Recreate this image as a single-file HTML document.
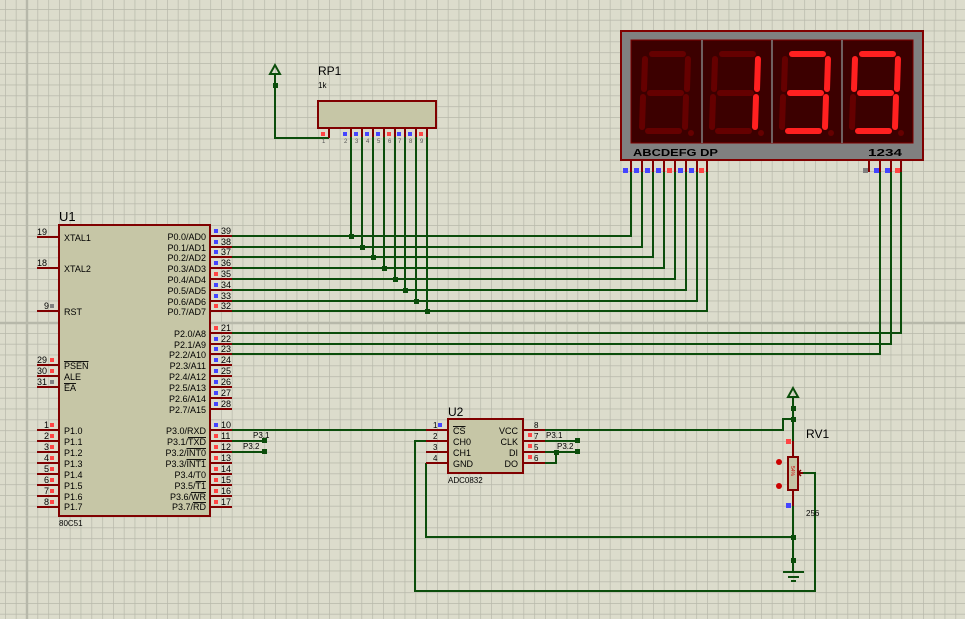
<!DOCTYPE html>
<html><head><meta charset="utf-8"><style>
html,body{margin:0;padding:0;width:965px;height:619px;overflow:hidden;background:#dcdccc}
svg{display:block;font-family:"Liberation Sans",sans-serif}
.pl{font-size:9px;fill:#000}
.pn{font-size:9px;fill:#000}
.ol{text-decoration:overline}
</style></head><body>
<svg width="965" height="619" xmlns="http://www.w3.org/2000/svg">
<defs>
<pattern id="g" x="5" y="9" width="10.8" height="10.8" patternUnits="userSpaceOnUse">
<path d="M0 0H10.8M0 0V10.8" stroke="#b7b8aa" stroke-width="1.4" fill="none"/>
</pattern>
</defs>
<rect width="965" height="619" fill="#dcdccc"/>
<rect width="965" height="619" fill="url(#g)"/>
<g stroke="#b7b8aa" stroke-width="2.4">
<line x1="27" y1="0" x2="27" y2="619"/>
<line x1="0" y1="323" x2="965" y2="323"/>
</g>

<!-- ===== WIRES ===== -->
<g stroke="#0b4d0b" stroke-width="2" fill="none">
<polyline points="232,236 631,236 631,172"/>
<polyline points="232,247 642,247 642,172"/>
<polyline points="232,257 653,257 653,172"/>
<polyline points="232,268 664,268 664,172"/>
<polyline points="232,279 675,279 675,172"/>
<polyline points="232,290 686,290 686,172"/>
<polyline points="232,301 697,301 697,172"/>
<polyline points="232,311 707,311 707,172"/>
<line x1="351" y1="136" x2="351" y2="236"/>
<line x1="362" y1="136" x2="362" y2="247"/>
<line x1="373" y1="136" x2="373" y2="257"/>
<line x1="384" y1="136" x2="384" y2="268"/>
<line x1="395" y1="136" x2="395" y2="279"/>
<line x1="405" y1="136" x2="405" y2="290"/>
<line x1="416" y1="136" x2="416" y2="301"/>
<line x1="427" y1="136" x2="427" y2="311"/>
<polyline points="329,138 275,138 275,74"/>
<polyline points="232,333 901,333 901,172"/>
<polyline points="232,344 891,344 891,172"/>
<polyline points="232,354 880,354 880,172"/>
<line x1="232" y1="430" x2="426" y2="430"/>
<line x1="232" y1="441" x2="265" y2="441"/>
<line x1="232" y1="452" x2="265" y2="452"/>
<polyline points="545,430 783,430 783,419 793,419"/>
<line x1="545" y1="441" x2="577" y2="441"/>
<line x1="545" y1="452" x2="577" y2="452"/>
<polyline points="545,463 556,463 556,452"/>
<polyline points="426,441 415,441 415,591 815,591 815,473 803,473"/>
<polyline points="426,463 426,537 793,537"/>
<line x1="793" y1="398" x2="793" y2="441"/>
<line x1="793" y1="506" x2="793" y2="572"/>
</g>
<g fill="#0b4d0b">
<rect x="349" y="234" width="5" height="5"/><rect x="360" y="245" width="5" height="5"/>
<rect x="371" y="255" width="5" height="5"/><rect x="382" y="266" width="5" height="5"/>
<rect x="393" y="277" width="5" height="5"/><rect x="403" y="288" width="5" height="5"/>
<rect x="414" y="299" width="5" height="5"/><rect x="425" y="309" width="5" height="5"/>
<rect x="273" y="83" width="5" height="5"/>
<rect x="262" y="438" width="5" height="5"/><rect x="262" y="449" width="5" height="5"/>
<rect x="575" y="438" width="5" height="5"/><rect x="575" y="449" width="5" height="5"/>
<rect x="554" y="450" width="5" height="5"/>
<rect x="791" y="406" width="5" height="5"/><rect x="791" y="417" width="5" height="5"/>
<rect x="791" y="535" width="5" height="5"/><rect x="791" y="558" width="5" height="5"/>
</g>
<g stroke="#0b4d0b" stroke-width="2" fill="none">
<polygon points="275,65 270,74 280,74"/>
<polygon points="793,388 788,397 798,397"/>
<line x1="783" y1="572" x2="804" y2="572"/>
<line x1="788" y1="577" x2="799" y2="577"/>
<line x1="791" y1="581" x2="796" y2="581"/>
</g>
<g font-size="8" fill="#000">
<text x="253" y="438">P3.1</text><text x="243" y="449">P3.2</text>
<text x="546" y="438">P3.1</text><text x="557" y="449">P3.2</text>
</g>

<!-- ===== U1 ===== -->
<g stroke="#800000" stroke-width="2">
<line x1="37" y1="237" x2="59" y2="237"/><line x1="37" y1="268" x2="59" y2="268"/>
<line x1="37" y1="311" x2="59" y2="311"/><line x1="37" y1="365" x2="59" y2="365"/>
<line x1="37" y1="376" x2="59" y2="376"/><line x1="37" y1="387" x2="59" y2="387"/>
<line x1="37" y1="430" x2="59" y2="430"/><line x1="37" y1="441" x2="59" y2="441"/>
<line x1="37" y1="452" x2="59" y2="452"/><line x1="37" y1="463" x2="59" y2="463"/>
<line x1="37" y1="474" x2="59" y2="474"/><line x1="37" y1="485" x2="59" y2="485"/>
<line x1="37" y1="496" x2="59" y2="496"/><line x1="37" y1="507" x2="59" y2="507"/>
<line x1="210" y1="236" x2="232" y2="236"/><line x1="210" y1="247" x2="232" y2="247"/>
<line x1="210" y1="257" x2="232" y2="257"/><line x1="210" y1="268" x2="232" y2="268"/>
<line x1="210" y1="279" x2="232" y2="279"/><line x1="210" y1="290" x2="232" y2="290"/>
<line x1="210" y1="301" x2="232" y2="301"/><line x1="210" y1="311" x2="232" y2="311"/>
<line x1="210" y1="333" x2="232" y2="333"/><line x1="210" y1="344" x2="232" y2="344"/>
<line x1="210" y1="354" x2="232" y2="354"/><line x1="210" y1="365" x2="232" y2="365"/>
<line x1="210" y1="376" x2="232" y2="376"/><line x1="210" y1="387" x2="232" y2="387"/>
<line x1="210" y1="398" x2="232" y2="398"/><line x1="210" y1="409" x2="232" y2="409"/>
<line x1="210" y1="430" x2="232" y2="430"/><line x1="210" y1="441" x2="232" y2="441"/>
<line x1="210" y1="452" x2="232" y2="452"/><line x1="210" y1="463" x2="232" y2="463"/>
<line x1="210" y1="474" x2="232" y2="474"/><line x1="210" y1="485" x2="232" y2="485"/>
<line x1="210" y1="496" x2="232" y2="496"/><line x1="210" y1="507" x2="232" y2="507"/>
</g>
<rect x="59" y="225" width="151" height="291" fill="#c6c6a6" stroke="#800000" stroke-width="2"/>
<text x="59" y="221" font-size="13">U1</text>
<text x="59" y="526" font-size="8">80C51</text>
<g class="pl">
<text x="64" y="241">XTAL1</text><text x="64" y="272">XTAL2</text><text x="64" y="315">RST</text>
<text x="64" y="369"><tspan class="ol">PSEN</tspan></text><text x="64" y="380">ALE</text><text x="64" y="391"><tspan class="ol">EA</tspan></text>
<text x="64" y="434">P1.0</text><text x="64" y="445">P1.1</text><text x="64" y="456">P1.2</text><text x="64" y="467">P1.3</text>
<text x="64" y="478">P1.4</text><text x="64" y="489">P1.5</text><text x="64" y="500">P1.6</text><text x="64" y="510">P1.7</text>
</g>
<g class="pl" text-anchor="end">
<text x="206" y="240">P0.0/AD0</text><text x="206" y="251">P0.1/AD1</text><text x="206" y="261">P0.2/AD2</text><text x="206" y="272">P0.3/AD3</text>
<text x="206" y="283">P0.4/AD4</text><text x="206" y="294">P0.5/AD5</text><text x="206" y="305">P0.6/AD6</text><text x="206" y="315">P0.7/AD7</text>
<text x="206" y="337">P2.0/A8</text><text x="206" y="348">P2.1/A9</text><text x="206" y="358">P2.2/A10</text><text x="206" y="369">P2.3/A11</text>
<text x="206" y="380">P2.4/A12</text><text x="206" y="391">P2.5/A13</text><text x="206" y="402">P2.6/A14</text><text x="206" y="413">P2.7/A15</text>
<text x="206" y="434">P3.0/RXD</text><text x="206" y="445">P3.1/<tspan class="ol">TXD</tspan></text><text x="206" y="456">P3.2/<tspan class="ol">INT0</tspan></text><text x="206" y="467">P3.3/<tspan class="ol">INT1</tspan></text>
<text x="206" y="478">P3.4/T0</text><text x="206" y="489">P3.5/<tspan class="ol">T1</tspan></text><text x="206" y="500">P3.6/<tspan class="ol">WR</tspan></text><text x="206" y="510">P3.7/<tspan class="ol">RD</tspan></text>
</g>
<g class="pn">
<text x="37" y="235">19</text><text x="37" y="266">18</text><text x="44" y="309">9</text>
<text x="37" y="363">29</text><text x="37" y="374">30</text><text x="37" y="385">31</text>
<text x="44" y="428">1</text><text x="44" y="439">2</text><text x="44" y="450">3</text><text x="44" y="461">4</text>
<text x="44" y="472">5</text><text x="44" y="483">6</text><text x="44" y="494">7</text><text x="44" y="505">8</text>
<text x="221" y="234">39</text><text x="221" y="245">38</text><text x="221" y="255">37</text><text x="221" y="266">36</text>
<text x="221" y="277">35</text><text x="221" y="288">34</text><text x="221" y="299">33</text><text x="221" y="309">32</text>
<text x="221" y="331">21</text><text x="221" y="342">22</text><text x="221" y="352">23</text><text x="221" y="363">24</text>
<text x="221" y="374">25</text><text x="221" y="385">26</text><text x="221" y="396">27</text><text x="221" y="407">28</text>
<text x="221" y="428">10</text><text x="221" y="439">11</text><text x="221" y="450">12</text><text x="221" y="461">13</text>
<text x="221" y="472">14</text><text x="221" y="483">15</text><text x="221" y="494">16</text><text x="221" y="505">17</text>
</g>
<g>
<rect x="50" y="304" width="4" height="4" fill="#808080"/><rect x="50" y="358" width="4" height="4" fill="#f44"/>
<rect x="50" y="369" width="4" height="4" fill="#f44"/><rect x="50" y="380" width="4" height="4" fill="#808080"/>
<g fill="#f44"><rect x="50" y="423" width="4" height="4"/><rect x="50" y="434" width="4" height="4"/><rect x="50" y="445" width="4" height="4"/><rect x="50" y="456" width="4" height="4"/><rect x="50" y="467" width="4" height="4"/><rect x="50" y="478" width="4" height="4"/><rect x="50" y="489" width="4" height="4"/><rect x="50" y="500" width="4" height="4"/></g>
<g fill="#44f"><rect x="214" y="229" width="4" height="4"/><rect x="214" y="240" width="4" height="4"/><rect x="214" y="250" width="4" height="4"/><rect x="214" y="261" width="4" height="4"/><rect x="214" y="283" width="4" height="4"/><rect x="214" y="294" width="4" height="4"/>
<rect x="214" y="337" width="4" height="4"/><rect x="214" y="347" width="4" height="4"/><rect x="214" y="358" width="4" height="4"/><rect x="214" y="369" width="4" height="4"/><rect x="214" y="380" width="4" height="4"/><rect x="214" y="391" width="4" height="4"/><rect x="214" y="402" width="4" height="4"/><rect x="214" y="423" width="4" height="4"/></g>
<g fill="#f44"><rect x="214" y="272" width="4" height="4"/><rect x="214" y="304" width="4" height="4"/><rect x="214" y="326" width="4" height="4"/>
<rect x="214" y="434" width="4" height="4"/><rect x="214" y="445" width="4" height="4"/><rect x="214" y="456" width="4" height="4"/><rect x="214" y="467" width="4" height="4"/><rect x="214" y="478" width="4" height="4"/><rect x="214" y="489" width="4" height="4"/><rect x="214" y="500" width="4" height="4"/></g>
</g>

<!-- ===== RP1 ===== -->
<g stroke="#800000" stroke-width="2">
<line x1="329" y1="128" x2="329" y2="138"/>
<line x1="351" y1="128" x2="351" y2="137"/><line x1="362" y1="128" x2="362" y2="137"/>
<line x1="373" y1="128" x2="373" y2="137"/><line x1="384" y1="128" x2="384" y2="137"/>
<line x1="395" y1="128" x2="395" y2="137"/><line x1="405" y1="128" x2="405" y2="137"/>
<line x1="416" y1="128" x2="416" y2="137"/><line x1="427" y1="128" x2="427" y2="137"/>
</g>
<rect x="318" y="101" width="118" height="27" fill="#c6c6a6" stroke="#800000" stroke-width="2"/>
<text x="318" y="75" font-size="12">RP1</text>
<text x="318" y="88" font-size="8">1k</text>
<rect x="321" y="132" width="4" height="4" fill="#f44"/>
<g fill="#44f"><rect x="343" y="132" width="4" height="4"/><rect x="354" y="132" width="4" height="4"/><rect x="365" y="132" width="4" height="4"/><rect x="376" y="132" width="4" height="4"/><rect x="397" y="132" width="4" height="4"/><rect x="408" y="132" width="4" height="4"/></g>
<g fill="#f44"><rect x="387" y="132" width="4" height="4"/><rect x="419" y="132" width="4" height="4"/></g>
<g font-size="6" fill="#555"><text x="322" y="143">1</text><text x="344" y="143">2</text><text x="355" y="143">3</text><text x="366" y="143">4</text><text x="377" y="143">5</text><text x="388" y="143">6</text><text x="398" y="143">7</text><text x="409" y="143">8</text><text x="420" y="143">9</text></g>

<!-- ===== DISPLAY ===== -->
<g stroke="#800000" stroke-width="2">
<line x1="631" y1="160" x2="631" y2="172"/><line x1="642" y1="160" x2="642" y2="172"/>
<line x1="653" y1="160" x2="653" y2="172"/><line x1="664" y1="160" x2="664" y2="172"/>
<line x1="675" y1="160" x2="675" y2="172"/><line x1="686" y1="160" x2="686" y2="172"/>
<line x1="697" y1="160" x2="697" y2="172"/><line x1="707" y1="160" x2="707" y2="172"/>
<line x1="869" y1="160" x2="869" y2="172"/><line x1="880" y1="160" x2="880" y2="172"/>
<line x1="891" y1="160" x2="891" y2="172"/><line x1="901" y1="160" x2="901" y2="172"/>
</g>
<rect x="621" y="31" width="302" height="129" fill="#808080" stroke="#800000" stroke-width="2"/>
<rect x="631" y="40" width="282" height="103" fill="#3c0000" stroke="#800000" stroke-width="1"/>
<g stroke="#808080" stroke-width="1.5"><line x1="702" y1="40" x2="702" y2="143"/><line x1="772" y1="40" x2="772" y2="143"/><line x1="842" y1="40" x2="842" y2="143"/></g>
<g stroke-width="6" stroke-linecap="round">
<g stroke="#650000">
<line x1="652" y1="54" x2="683" y2="54"/><line x1="645" y1="59" x2="644" y2="89"/><line x1="688" y1="59" x2="687" y2="89"/>
<line x1="650" y1="93" x2="681" y2="93"/><line x1="643" y1="97" x2="642" y2="127"/><line x1="686" y1="97" x2="685" y2="127"/>
<line x1="648" y1="131" x2="679" y2="131"/>
<line x1="722" y1="54" x2="753" y2="54"/><line x1="715" y1="59" x2="714" y2="89"/>
<line x1="720" y1="93" x2="751" y2="93"/><line x1="713" y1="97" x2="712" y2="127"/><line x1="718" y1="131" x2="749" y2="131"/>
<line x1="785" y1="59" x2="784" y2="89"/><line x1="783" y1="97" x2="782" y2="127"/>
<line x1="853" y1="97" x2="852" y2="127"/>
</g>
<g stroke="#ff2020">
<line x1="758" y1="59" x2="757" y2="89"/><line x1="756" y1="97" x2="755" y2="127"/>
<line x1="792" y1="54" x2="823" y2="54"/><line x1="828" y1="59" x2="827" y2="89"/><line x1="790" y1="93" x2="821" y2="93"/><line x1="826" y1="97" x2="825" y2="127"/><line x1="788" y1="131" x2="819" y2="131"/>
<line x1="862" y1="54" x2="893" y2="54"/><line x1="855" y1="59" x2="854" y2="89"/><line x1="898" y1="59" x2="897" y2="89"/><line x1="860" y1="93" x2="891" y2="93"/><line x1="896" y1="97" x2="895" y2="127"/><line x1="858" y1="131" x2="889" y2="131"/>
</g>
</g>
<g fill="#650000"><circle cx="691" cy="133" r="3"/><circle cx="761" cy="133" r="3"/><circle cx="831" cy="133" r="3"/><circle cx="901" cy="133" r="3"/></g>
<text x="633" y="156" font-size="10" font-weight="bold" textLength="85" lengthAdjust="spacingAndGlyphs">ABCDEFG  DP</text>
<text x="868" y="156" font-size="10" font-weight="bold" textLength="34" lengthAdjust="spacingAndGlyphs">1234</text>
<g fill="#44f"><rect x="623" y="168" width="5" height="5"/><rect x="634" y="168" width="5" height="5"/><rect x="645" y="168" width="5" height="5"/><rect x="656" y="168" width="5" height="5"/><rect x="678" y="168" width="5" height="5"/><rect x="689" y="168" width="5" height="5"/><rect x="874" y="168" width="5" height="5"/><rect x="885" y="168" width="5" height="5"/></g>
<g fill="#f44"><rect x="667" y="168" width="5" height="5"/><rect x="699" y="168" width="5" height="5"/><rect x="895" y="168" width="5" height="5"/></g>
<rect x="863" y="168" width="5" height="5" fill="#808080"/>

<!-- ===== U2 ===== -->
<g stroke="#800000" stroke-width="2">
<line x1="426" y1="430" x2="448" y2="430"/><line x1="426" y1="441" x2="448" y2="441"/>
<line x1="426" y1="452" x2="448" y2="452"/><line x1="426" y1="463" x2="448" y2="463"/>
<line x1="523" y1="430" x2="545" y2="430"/><line x1="523" y1="441" x2="545" y2="441"/>
<line x1="523" y1="452" x2="545" y2="452"/><line x1="523" y1="463" x2="545" y2="463"/>
</g>
<rect x="448" y="419" width="75" height="54" fill="#c6c6a6" stroke="#800000" stroke-width="2"/>
<text x="448" y="416" font-size="12">U2</text>
<text x="448" y="483" font-size="8">ADC0832</text>
<g class="pl"><text x="453" y="434"><tspan class="ol">CS</tspan></text><text x="453" y="445">CH0</text><text x="453" y="456">CH1</text><text x="453" y="467">GND</text></g>
<g class="pl" text-anchor="end"><text x="518" y="434">VCC</text><text x="518" y="445">CLK</text><text x="518" y="456">DI</text><text x="518" y="467">DO</text></g>
<g font-size="8"><text x="433" y="428">1</text><text x="433" y="439">2</text><text x="433" y="450">3</text><text x="433" y="461">4</text>
<text x="534" y="428">8</text><text x="534" y="439">7</text><text x="534" y="450">5</text><text x="534" y="461">6</text></g>
<rect x="438" y="423" width="4" height="4" fill="#44f"/>
<g fill="#f44"><rect x="528" y="433" width="4" height="4"/><rect x="528" y="444" width="4" height="4"/><rect x="528" y="455" width="4" height="4"/></g>

<!-- ===== RV1 ===== -->
<g stroke="#800000" stroke-width="2">
<line x1="793" y1="441" x2="793" y2="457"/><line x1="793" y1="490" x2="793" y2="506"/>
<line x1="798" y1="473" x2="803" y2="473"/>
<polyline points="801,470 798,473 801,476" fill="none" stroke-width="1.5"/>
</g>
<rect x="788" y="457" width="10" height="33" fill="#c6c6a6" stroke="#800000" stroke-width="2"/>
<text x="791" y="466" font-size="5" fill="#c00" transform="rotate(90 791 466)">54%</text>
<rect x="786" y="439" width="5" height="5" fill="#f44"/>
<rect x="786" y="503" width="5" height="5" fill="#44f"/>
<circle cx="779" cy="462" r="3" fill="#c00"/><circle cx="779" cy="486" r="3" fill="#c00"/>
<text x="806" y="438" font-size="12">RV1</text>
<text x="806" y="516" font-size="8">256</text>
</svg>
</body></html>
